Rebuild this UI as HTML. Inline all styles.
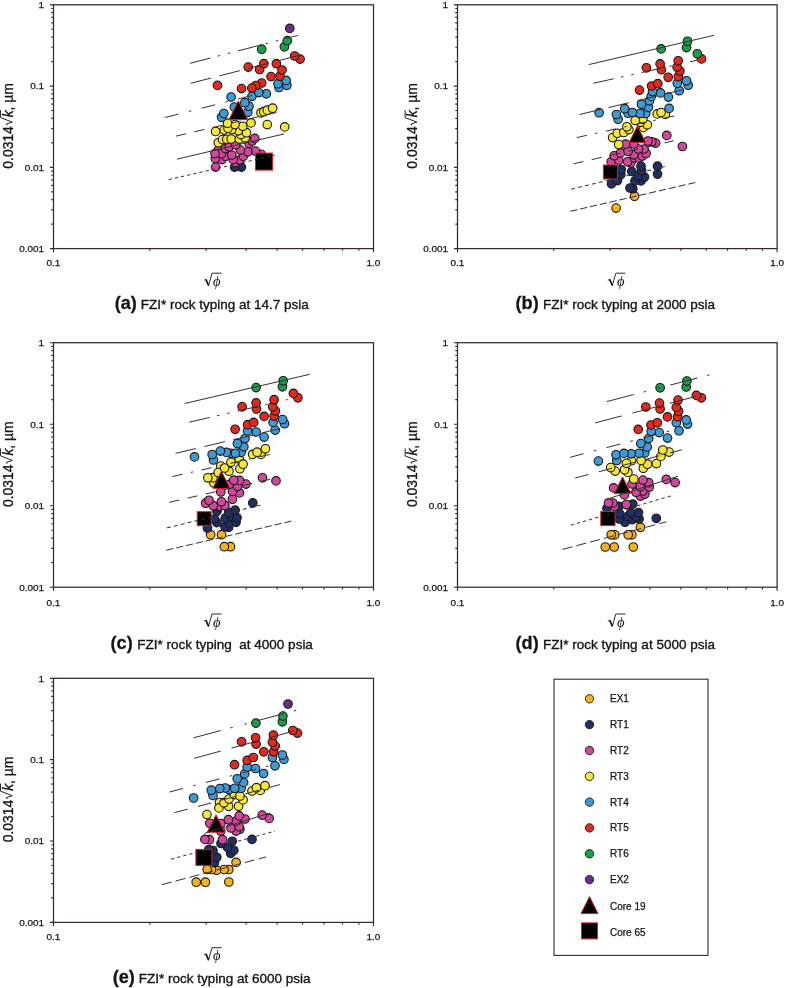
<!DOCTYPE html>
<html lang="en"><head><meta charset="utf-8"><title>FZI* rock typing</title>
<style>
html,body{margin:0;padding:0;background:#fff;}
body{width:785px;height:988px;overflow:hidden;}
svg{display:block;font-family:"Liberation Sans",sans-serif;}
</style></head><body>
<svg width="785" height="988" viewBox="0 0 785 988">
<rect width="785" height="988" fill="#fff"/>
<g>
<g stroke="#1c1616" stroke-width="1.1">
<g fill="#1f2e63"><circle cx="241.4" cy="167.1" r="4.3"/><circle cx="234.6" cy="167.1" r="4.3"/></g>
<g fill="#d0479c"><circle cx="218.5" cy="149.9" r="4.3"/><circle cx="215.6" cy="167.1" r="4.3"/><circle cx="235.7" cy="162.6" r="4.3"/><circle cx="239.5" cy="160" r="4.3"/><circle cx="233.1" cy="159.4" r="4.3"/><circle cx="222" cy="159.6" r="4.3"/><circle cx="215.3" cy="158.5" r="4.3"/><circle cx="243.3" cy="156.2" r="4.3"/><circle cx="225.5" cy="156.2" r="4.3"/><circle cx="231.8" cy="155" r="4.3"/><circle cx="221.6" cy="153.5" r="4.3"/><circle cx="215" cy="153.6" r="4.3"/><circle cx="261.1" cy="154.3" r="4.3"/><circle cx="255.4" cy="151.1" r="4.3"/><circle cx="247.8" cy="151.8" r="4.3"/><circle cx="240.5" cy="150.1" r="4.3"/><circle cx="225.5" cy="148.6" r="4.3"/><circle cx="229.3" cy="146.7" r="4.3"/><circle cx="235.7" cy="144.8" r="4.3"/><circle cx="249" cy="143.5" r="4.3"/><circle cx="252.2" cy="141" r="4.3"/><circle cx="254.8" cy="138.4" r="4.3"/></g>
<g fill="#f3e83a"><circle cx="218.3" cy="142.8" r="4.3"/><circle cx="222.5" cy="139.6" r="4.3"/><circle cx="226.8" cy="139.3" r="4.3"/><circle cx="231.2" cy="139" r="4.3"/><circle cx="239.5" cy="139" r="4.3"/><circle cx="245.2" cy="137.8" r="4.3"/><circle cx="240.8" cy="134.6" r="4.3"/><circle cx="246.5" cy="132.7" r="4.3"/><circle cx="238.2" cy="130.8" r="4.3"/><circle cx="231.8" cy="129.5" r="4.3"/><circle cx="215.6" cy="131.5" r="4.3"/><circle cx="224.2" cy="130.1" r="4.3"/><circle cx="228" cy="128.2" r="4.3"/><circle cx="242.7" cy="126.3" r="4.3"/><circle cx="235" cy="124.6" r="4.3"/><circle cx="227.5" cy="123.2" r="4.3"/><circle cx="251" cy="122.9" r="4.3"/><circle cx="284.7" cy="126.9" r="4.3"/><circle cx="267.3" cy="124.6" r="4.3"/><circle cx="261" cy="112.8" r="4.3"/><circle cx="263.8" cy="111.7" r="4.3"/><circle cx="267.3" cy="110.2" r="4.3"/><circle cx="272.6" cy="108.2" r="4.3"/></g>
<g fill="#3c9ad6"><circle cx="221.6" cy="117.3" r="4.3"/><circle cx="223.8" cy="113.5" r="4.3"/><circle cx="247.8" cy="112.3" r="4.3"/><circle cx="234.4" cy="107" r="4.3"/><circle cx="249" cy="106.2" r="4.3"/><circle cx="244.8" cy="102.7" r="4.3"/><circle cx="231.1" cy="97" r="4.3"/><circle cx="252" cy="96.3" r="4.3"/><circle cx="266.3" cy="93.8" r="4.3"/><circle cx="258.9" cy="92.6" r="4.3"/><circle cx="279" cy="87.5" r="4.3"/><circle cx="286.9" cy="85.3" r="4.3"/><circle cx="278" cy="83.7" r="4.3"/><circle cx="286.1" cy="80.4" r="4.3"/></g>
<g fill="#e02a1f"><circle cx="261.7" cy="83" r="4.3"/><circle cx="255.8" cy="85.5" r="4.3"/><circle cx="251.8" cy="88.1" r="4.3"/><circle cx="241.5" cy="88.6" r="4.3"/><circle cx="217.5" cy="85.4" r="4.3"/><circle cx="279.9" cy="76.3" r="4.3"/><circle cx="271" cy="76.6" r="4.3"/><circle cx="282" cy="70" r="4.3"/><circle cx="276.4" cy="63.7" r="4.3"/><circle cx="259.6" cy="69.5" r="4.3"/><circle cx="248.2" cy="67.1" r="4.3"/><circle cx="263.8" cy="63.7" r="4.3"/><circle cx="300.1" cy="59.1" r="4.3"/><circle cx="294.7" cy="56" r="4.3"/></g>
<g fill="#17a04a"><circle cx="261.7" cy="49.2" r="4.3"/><circle cx="284.4" cy="46.8" r="4.3"/><circle cx="287.3" cy="40.7" r="4.3"/></g>
<g fill="#6b2c91"><circle cx="289.8" cy="28.4" r="4.3"/></g>
</g>
<polygon points="238.4,100.9 247.7,119.5 229.1,119.5" fill="#000" stroke="#e0201c" stroke-width="1"/>
<rect x="255.5" y="153.1" width="17" height="17" fill="#000" stroke="#e0201c" stroke-width="1"/>
<g stroke="#3a2f2e" stroke-width="1" fill="none">
<line x1="190.1" y1="63.3" x2="297.8" y2="35.4" stroke-dasharray="21 7.5 2.5 8 2.5 8"/>
<line x1="190.6" y1="83.3" x2="301" y2="54.9" stroke-dasharray="21 8.8"/>
<line x1="165.1" y1="117.5" x2="270" y2="90.9" stroke-dasharray="14 10.6 2.5 10.6"/>
<line x1="176.1" y1="136.1" x2="276.5" y2="112.5" stroke-dasharray="10.3 8.4"/>
<line x1="176.9" y1="159.2" x2="284.1" y2="133.9"/>
<line x1="168.7" y1="179.6" x2="274.5" y2="155.3" stroke-dasharray="3.3 3"/>
</g>
<rect x="53.5" y="4.8" width="320" height="243.8" fill="none" stroke="#362b2a" stroke-width="1.25"/>
<path d="M53.5 248.60h-3.6M53.5 224.14h-2.2M53.5 209.83h-2.2M53.5 199.67h-2.2M53.5 191.80h-2.2M53.5 185.36h-2.2M53.5 179.92h-2.2M53.5 175.21h-2.2M53.5 171.05h-2.2M53.5 167.33h-3.6M53.5 142.87h-2.2M53.5 128.56h-2.2M53.5 118.41h-2.2M53.5 110.53h-2.2M53.5 104.10h-2.2M53.5 98.66h-2.2M53.5 93.94h-2.2M53.5 89.79h-2.2M53.5 86.07h-3.6M53.5 61.60h-2.2M53.5 47.29h-2.2M53.5 37.14h-2.2M53.5 29.26h-2.2M53.5 22.83h-2.2M53.5 17.39h-2.2M53.5 12.68h-2.2M53.5 8.52h-2.2M53.5 4.8h-3.6M53.50 248.6v3.6M149.83 248.6v2.2M206.18 248.6v2.2M246.16 248.6v2.2M277.17 248.6v2.2M302.51 248.6v2.2M323.93 248.6v2.2M342.49 248.6v2.2M358.86 248.6v2.2M373.50 248.6v3.6" stroke="#362b2a" stroke-width="1.15" fill="none"/>
<g font-size="9.95" fill="#161414" stroke="#161414" stroke-width="0.25">
<text x="44" y="8.1" text-anchor="end">1</text>
<text x="44" y="89.4" text-anchor="end">0.1</text>
<text x="44" y="170.6" text-anchor="end">0.01</text>
<text x="44" y="251.9" text-anchor="end">0.001</text>
<text x="53.5" y="265.5" text-anchor="middle">0.1</text>
<text x="373.5" y="265.5" text-anchor="middle">1.0</text>
</g>
<g transform="translate(12.6 126.1) rotate(-90) scale(1.04)" font-size="13.4" fill="#161414" stroke="#161414" stroke-width="0.3"><text x="-41" y="0">0.0314</text><path d="M0.6 -5.2l1.4 -0.8l1.8 5.7l4.4 -11.3h7.2" fill="none" stroke="#161414" stroke-width="0.9"/><text x="8.5" y="0" font-style="italic">k</text><text x="15" y="0">, µm</text></g>
<g transform="translate(213.5 248.6)" fill="#161414"><path d="M-9.5 31.7l2 -0.9" fill="none" stroke="#161414" stroke-width="0.8"/><path d="M-7.6 30.7l2.6 6" fill="none" stroke="#161414" stroke-width="1.7"/><path d="M-5.1 37.4l3.6 -12.8h9.6" fill="none" stroke="#161414" stroke-width="0.9"/><text x="-0.4" y="37.2" font-size="14.5" font-style="italic" font-family="'Liberation Serif','DejaVu Serif',serif">ϕ</text></g>
<text x="114.7" y="308.6" font-size="18.1" font-weight="bold" fill="#161414" stroke="#161414" stroke-width="0.3">(a)</text>
<text x="140.79999999999998" y="308.6" font-size="13.5" fill="#161414" stroke="#161414" stroke-width="0.35" xml:space="preserve">FZI* rock typing at 14.7 psia</text>
</g>
<g>
<g stroke="#1c1616" stroke-width="1.1">
<g fill="#f5b21b"><circle cx="634.5" cy="196.2" r="4.3"/><circle cx="616.1" cy="208.1" r="4.3"/></g>
<g fill="#1f2e63"><circle cx="641" cy="180.9" r="4.3"/><circle cx="632.8" cy="188.7" r="4.3"/><circle cx="630" cy="188" r="4.3"/><circle cx="635" cy="180.9" r="4.3"/><circle cx="611.5" cy="183.8" r="4.3"/><circle cx="617.5" cy="180.6" r="4.3"/><circle cx="620.8" cy="174.5" r="4.3"/><circle cx="644.5" cy="177.1" r="4.3"/><circle cx="637.9" cy="176.2" r="4.3"/><circle cx="631.8" cy="171.5" r="4.3"/><circle cx="621.3" cy="169.5" r="4.3"/><circle cx="657.5" cy="174.1" r="4.3"/><circle cx="657.5" cy="166.2" r="4.3"/><circle cx="641.6" cy="170.7" r="4.3"/><circle cx="641" cy="166.2" r="4.3"/></g>
<g fill="#d0479c"><circle cx="630.8" cy="163.1" r="4.3"/><circle cx="627.7" cy="161.8" r="4.3"/><circle cx="611.2" cy="161.8" r="4.3"/><circle cx="618.8" cy="160.2" r="4.3"/><circle cx="634.5" cy="158" r="4.3"/><circle cx="639" cy="158" r="4.3"/><circle cx="642.2" cy="156.1" r="4.3"/><circle cx="646.1" cy="153.5" r="4.3"/><circle cx="633.9" cy="154.8" r="4.3"/><circle cx="614.2" cy="155.8" r="4.3"/><circle cx="620.6" cy="152.9" r="4.3"/><circle cx="628.1" cy="151.3" r="4.3"/><circle cx="644.1" cy="149" r="4.3"/><circle cx="638.4" cy="149" r="4.3"/><circle cx="633.8" cy="143.9" r="4.3"/><circle cx="625.6" cy="144.2" r="4.3"/><circle cx="655.6" cy="143.1" r="4.3"/><circle cx="651.8" cy="141.8" r="4.3"/><circle cx="648" cy="141" r="4.3"/><circle cx="682.4" cy="146.5" r="4.3"/><circle cx="666.8" cy="135.4" r="4.3"/></g>
<g fill="#f3e83a"><circle cx="618.7" cy="144.6" r="4.3"/><circle cx="612.6" cy="137.6" r="4.3"/><circle cx="617.3" cy="133.3" r="4.3"/><circle cx="623.8" cy="132.5" r="4.3"/><circle cx="628.9" cy="129.6" r="4.3"/><circle cx="626.9" cy="126.8" r="4.3"/><circle cx="643.5" cy="127.4" r="4.3"/><circle cx="647.3" cy="124.8" r="4.3"/><circle cx="640.3" cy="122.3" r="4.3"/><circle cx="642.9" cy="119.1" r="4.3"/><circle cx="635.2" cy="120.5" r="4.3"/><circle cx="665.3" cy="114.4" r="4.3"/><circle cx="657.2" cy="113.9" r="4.3"/><circle cx="661.1" cy="112.6" r="4.3"/></g>
<g fill="#3c9ad6"><circle cx="618.1" cy="119.2" r="4.3"/><circle cx="616.4" cy="114.5" r="4.3"/><circle cx="599.1" cy="112.7" r="4.3"/><circle cx="628" cy="113.2" r="4.3"/><circle cx="645.7" cy="113.5" r="4.3"/><circle cx="640" cy="113.5" r="4.3"/><circle cx="632.5" cy="112.5" r="4.3"/><circle cx="624.7" cy="108.7" r="4.3"/><circle cx="669.1" cy="108.4" r="4.3"/><circle cx="648.4" cy="107.3" r="4.3"/><circle cx="641.5" cy="104.3" r="4.3"/><circle cx="649.5" cy="100.8" r="4.3"/><circle cx="651.2" cy="96.4" r="4.3"/><circle cx="668.4" cy="97.1" r="4.3"/><circle cx="660.5" cy="92.9" r="4.3"/><circle cx="652.5" cy="91.6" r="4.3"/><circle cx="679.2" cy="90.7" r="4.3"/><circle cx="688.2" cy="85.2" r="4.3"/><circle cx="677.3" cy="83.3" r="4.3"/><circle cx="686.5" cy="80.8" r="4.3"/></g>
<g fill="#e02a1f"><circle cx="639.5" cy="90.1" r="4.3"/><circle cx="651.6" cy="86" r="4.3"/><circle cx="657.8" cy="83.7" r="4.3"/><circle cx="678.3" cy="76.7" r="4.3"/><circle cx="668.2" cy="77.3" r="4.3"/><circle cx="679.9" cy="71" r="4.3"/><circle cx="677.1" cy="67.1" r="4.3"/><circle cx="661.4" cy="69.7" r="4.3"/><circle cx="646.4" cy="67.8" r="4.3"/><circle cx="660.1" cy="63.9" r="4.3"/><circle cx="678.2" cy="60.8" r="4.3"/><circle cx="701.5" cy="58.9" r="4.3"/></g>
<g fill="#17a04a"><circle cx="697.3" cy="53.8" r="4.3"/><circle cx="686.5" cy="47.6" r="4.3"/><circle cx="687.5" cy="41.3" r="4.3"/><circle cx="661.1" cy="48.9" r="4.3"/></g>
</g>
<polygon points="637.4,126 645.6,142.4 629.2,142.4" fill="#000" stroke="#e0201c" stroke-width="1"/>
<rect x="603.4" y="165" width="14" height="14" fill="#000" stroke="#e0201c" stroke-width="1"/>
<g stroke="#3a2f2e" stroke-width="1" fill="none">
<line x1="588.8" y1="64.6" x2="714" y2="35.3"/>
<line x1="593.2" y1="83.3" x2="697.7" y2="60.1" stroke-dasharray="21 7.5 2.5 8 2.5 8"/>
<line x1="579.5" y1="114.5" x2="684" y2="89.5" stroke-dasharray="21 8.8"/>
<line x1="576.7" y1="137.6" x2="682" y2="114.2" stroke-dasharray="10.5 8.4 2.5 8.4"/>
<line x1="573.4" y1="163.8" x2="673.8" y2="140.8" stroke-dasharray="10.3 8.4"/>
<line x1="571.2" y1="189.2" x2="667" y2="166" stroke-dasharray="4 3.1"/>
<line x1="570.2" y1="211.3" x2="695.4" y2="182.5" stroke-dasharray="7.3 2.8"/>
</g>
<rect x="457.5" y="4.8" width="319.6" height="243.8" fill="none" stroke="#362b2a" stroke-width="1.25"/>
<path d="M457.5 248.60h-3.6M457.5 224.14h-2.2M457.5 209.83h-2.2M457.5 199.67h-2.2M457.5 191.80h-2.2M457.5 185.36h-2.2M457.5 179.92h-2.2M457.5 175.21h-2.2M457.5 171.05h-2.2M457.5 167.33h-3.6M457.5 142.87h-2.2M457.5 128.56h-2.2M457.5 118.41h-2.2M457.5 110.53h-2.2M457.5 104.10h-2.2M457.5 98.66h-2.2M457.5 93.94h-2.2M457.5 89.79h-2.2M457.5 86.07h-3.6M457.5 61.60h-2.2M457.5 47.29h-2.2M457.5 37.14h-2.2M457.5 29.26h-2.2M457.5 22.83h-2.2M457.5 17.39h-2.2M457.5 12.68h-2.2M457.5 8.52h-2.2M457.5 4.8h-3.6M457.50 248.6v3.6M553.71 248.6v2.2M609.99 248.6v2.2M649.92 248.6v2.2M680.89 248.6v2.2M706.20 248.6v2.2M727.59 248.6v2.2M746.13 248.6v2.2M762.48 248.6v2.2M777.10 248.6v3.6" stroke="#362b2a" stroke-width="1.15" fill="none"/>
<g font-size="9.95" fill="#161414" stroke="#161414" stroke-width="0.25">
<text x="448" y="8.1" text-anchor="end">1</text>
<text x="448" y="89.4" text-anchor="end">0.1</text>
<text x="448" y="170.6" text-anchor="end">0.01</text>
<text x="448" y="251.9" text-anchor="end">0.001</text>
<text x="457.5" y="265.5" text-anchor="middle">0.1</text>
<text x="777.1" y="265.5" text-anchor="middle">1.0</text>
</g>
<g transform="translate(417.2 126.1) rotate(-90) scale(1.04)" font-size="13.4" fill="#161414" stroke="#161414" stroke-width="0.3"><text x="-41" y="0">0.0314</text><path d="M0.6 -5.2l1.4 -0.8l1.8 5.7l4.4 -11.3h7.2" fill="none" stroke="#161414" stroke-width="0.9"/><text x="8.5" y="0" font-style="italic">k</text><text x="15" y="0">, µm</text></g>
<g transform="translate(617.3 248.6)" fill="#161414"><path d="M-9.5 31.7l2 -0.9" fill="none" stroke="#161414" stroke-width="0.8"/><path d="M-7.6 30.7l2.6 6" fill="none" stroke="#161414" stroke-width="1.7"/><path d="M-5.1 37.4l3.6 -12.8h9.6" fill="none" stroke="#161414" stroke-width="0.9"/><text x="-0.4" y="37.2" font-size="14.5" font-style="italic" font-family="'Liberation Serif','DejaVu Serif',serif">ϕ</text></g>
<text x="515.6" y="308.6" font-size="18.1" font-weight="bold" fill="#161414" stroke="#161414" stroke-width="0.3">(b)</text>
<text x="543.1" y="308.6" font-size="13.5" fill="#161414" stroke="#161414" stroke-width="0.35" xml:space="preserve">FZI* rock typing at 2000 psia</text>
</g>
<g>
<g stroke="#1c1616" stroke-width="1.1">
<g fill="#f5b21b"><circle cx="230.5" cy="546.7" r="4.3"/><circle cx="224.3" cy="546.7" r="4.3"/><circle cx="221.5" cy="534.7" r="4.3"/><circle cx="210.6" cy="534.7" r="4.3"/></g>
<g fill="#1f2e63"><circle cx="207.4" cy="528" r="4.3"/><circle cx="228.6" cy="527.4" r="4.3"/><circle cx="224.9" cy="526.7" r="4.3"/><circle cx="216.9" cy="522.6" r="4.3"/><circle cx="229" cy="522.9" r="4.3"/><circle cx="236" cy="522.3" r="4.3"/><circle cx="214.4" cy="519" r="4.3"/><circle cx="225.2" cy="518.2" r="4.3"/><circle cx="231.3" cy="516.2" r="4.3"/><circle cx="237" cy="517.8" r="4.3"/><circle cx="216.9" cy="511.3" r="4.3"/><circle cx="228.7" cy="512.4" r="4.3"/><circle cx="235.1" cy="510.2" r="4.3"/><circle cx="252.8" cy="502.9" r="4.3"/></g>
<g fill="#d0479c"><circle cx="219.8" cy="506.3" r="4.3"/><circle cx="224.9" cy="505.4" r="4.3"/><circle cx="213.2" cy="505.7" r="4.3"/><circle cx="205.6" cy="503.2" r="4.3"/><circle cx="209" cy="500.3" r="4.3"/><circle cx="221.4" cy="501.8" r="4.3"/><circle cx="232.4" cy="499.2" r="4.3"/><circle cx="239.5" cy="492.9" r="4.3"/><circle cx="232.5" cy="491.4" r="4.3"/><circle cx="220.8" cy="492" r="4.3"/><circle cx="237.6" cy="486.3" r="4.3"/><circle cx="229.3" cy="484.4" r="4.3"/><circle cx="245.9" cy="484.1" r="4.3"/><circle cx="239.5" cy="480.4" r="4.3"/><circle cx="233.8" cy="480.2" r="4.3"/><circle cx="276" cy="480.9" r="4.3"/><circle cx="262.5" cy="477.8" r="4.3"/></g>
<g fill="#f3e83a"><circle cx="213.9" cy="483.1" r="4.3"/><circle cx="213" cy="477.7" r="4.3"/><circle cx="207.8" cy="477.8" r="4.3"/><circle cx="220.8" cy="466.1" r="4.3"/><circle cx="218.2" cy="472.5" r="4.3"/><circle cx="229" cy="471.2" r="4.3"/><circle cx="224.6" cy="468" r="4.3"/><circle cx="239.9" cy="468.7" r="4.3"/><circle cx="239.2" cy="459.1" r="4.3"/><circle cx="243.1" cy="464.2" r="4.3"/><circle cx="231" cy="462.3" r="4.3"/><circle cx="261" cy="454.4" r="4.3"/><circle cx="252.6" cy="454.4" r="4.3"/><circle cx="257.1" cy="452.2" r="4.3"/><circle cx="265.4" cy="448.8" r="4.3"/></g>
<g fill="#3c9ad6"><circle cx="213.5" cy="460" r="4.3"/><circle cx="212.2" cy="454.5" r="4.3"/><circle cx="194.5" cy="456.9" r="4.3"/><circle cx="230.8" cy="453.3" r="4.3"/><circle cx="241.1" cy="452.3" r="4.3"/><circle cx="235.4" cy="453.3" r="4.3"/><circle cx="226.5" cy="452.4" r="4.3"/><circle cx="220.3" cy="451.1" r="4.3"/><circle cx="243.8" cy="446.8" r="4.3"/><circle cx="237.4" cy="443.6" r="4.3"/><circle cx="245" cy="438.5" r="4.3"/><circle cx="264.1" cy="437.1" r="4.3"/><circle cx="256.1" cy="432" r="4.3"/><circle cx="247.6" cy="430.9" r="4.3"/><circle cx="275.2" cy="430.1" r="4.3"/><circle cx="284.5" cy="423.7" r="4.3"/><circle cx="273.1" cy="422.4" r="4.3"/><circle cx="282.6" cy="419.5" r="4.3"/></g>
<g fill="#e02a1f"><circle cx="235.1" cy="429.3" r="4.3"/><circle cx="247.6" cy="424.7" r="4.3"/><circle cx="253.7" cy="422.4" r="4.3"/><circle cx="274.1" cy="416.1" r="4.3"/><circle cx="264.1" cy="416.4" r="4.3"/><circle cx="275.4" cy="411" r="4.3"/><circle cx="272.7" cy="406.8" r="4.3"/><circle cx="256.5" cy="409" r="4.3"/><circle cx="242.1" cy="406.8" r="4.3"/><circle cx="256.1" cy="402.9" r="4.3"/><circle cx="274.1" cy="399.7" r="4.3"/><circle cx="297.9" cy="397.8" r="4.3"/><circle cx="293.4" cy="393.4" r="4.3"/></g>
<g fill="#17a04a"><circle cx="282.4" cy="386.8" r="4.3"/><circle cx="283.2" cy="380.8" r="4.3"/><circle cx="256.1" cy="387.6" r="4.3"/></g>
</g>
<polygon points="221.4,471.3 229.9,488.3 212.9,488.3" fill="#000" stroke="#e0201c" stroke-width="1"/>
<rect x="197.2" y="511.7" width="14" height="14" fill="#000" stroke="#e0201c" stroke-width="1"/>
<g stroke="#3a2f2e" stroke-width="1" fill="none">
<line x1="184.6" y1="403.5" x2="309.8" y2="374.3"/>
<line x1="189.2" y1="422.2" x2="287.7" y2="399.5" stroke-dasharray="21 7.5 2.5 8 2.5 8"/>
<line x1="175.5" y1="453.4" x2="280" y2="428.6" stroke-dasharray="21 8.8"/>
<line x1="172.3" y1="476.6" x2="278" y2="452.6" stroke-dasharray="10.5 8.4 2.5 8.4"/>
<line x1="169.2" y1="502.3" x2="270" y2="479.3" stroke-dasharray="10.3 8.4"/>
<line x1="166.9" y1="527.9" x2="263" y2="504.5" stroke-dasharray="4 3.1"/>
<line x1="166.3" y1="550.2" x2="291.4" y2="521.1" stroke-dasharray="7.3 2.8"/>
</g>
<rect x="53.5" y="342.7" width="320" height="244.5" fill="none" stroke="#362b2a" stroke-width="1.25"/>
<path d="M53.5 587.20h-3.6M53.5 562.67h-2.2M53.5 548.31h-2.2M53.5 538.13h-2.2M53.5 530.23h-2.2M53.5 523.78h-2.2M53.5 518.32h-2.2M53.5 513.60h-2.2M53.5 509.43h-2.2M53.5 505.70h-3.6M53.5 481.17h-2.2M53.5 466.81h-2.2M53.5 456.63h-2.2M53.5 448.73h-2.2M53.5 442.28h-2.2M53.5 436.82h-2.2M53.5 432.10h-2.2M53.5 427.93h-2.2M53.5 424.20h-3.6M53.5 399.67h-2.2M53.5 385.31h-2.2M53.5 375.13h-2.2M53.5 367.23h-2.2M53.5 360.78h-2.2M53.5 355.32h-2.2M53.5 350.60h-2.2M53.5 346.43h-2.2M53.5 342.7h-3.6M53.50 587.2v3.6M149.83 587.2v2.2M206.18 587.2v2.2M246.16 587.2v2.2M277.17 587.2v2.2M302.51 587.2v2.2M323.93 587.2v2.2M342.49 587.2v2.2M358.86 587.2v2.2M373.50 587.2v3.6" stroke="#362b2a" stroke-width="1.15" fill="none"/>
<g font-size="9.95" fill="#161414" stroke="#161414" stroke-width="0.25">
<text x="44" y="346.0" text-anchor="end">1</text>
<text x="44" y="427.5" text-anchor="end">0.1</text>
<text x="44" y="509.0" text-anchor="end">0.01</text>
<text x="44" y="590.5" text-anchor="end">0.001</text>
<text x="53.5" y="605.5" text-anchor="middle">0.1</text>
<text x="373.5" y="605.5" text-anchor="middle">1.0</text>
</g>
<g transform="translate(12.6 464.4) rotate(-90) scale(1.04)" font-size="13.4" fill="#161414" stroke="#161414" stroke-width="0.3"><text x="-41" y="0">0.0314</text><path d="M0.6 -5.2l1.4 -0.8l1.8 5.7l4.4 -11.3h7.2" fill="none" stroke="#161414" stroke-width="0.9"/><text x="8.5" y="0" font-style="italic">k</text><text x="15" y="0">, µm</text></g>
<g transform="translate(213.5 589.4)" fill="#161414"><path d="M-9.5 31.7l2 -0.9" fill="none" stroke="#161414" stroke-width="0.8"/><path d="M-7.6 30.7l2.6 6" fill="none" stroke="#161414" stroke-width="1.7"/><path d="M-5.1 37.4l3.6 -12.8h9.6" fill="none" stroke="#161414" stroke-width="0.9"/><text x="-0.4" y="37.2" font-size="14.5" font-style="italic" font-family="'Liberation Serif','DejaVu Serif',serif">ϕ</text></g>
<text x="110.6" y="648.9" font-size="18.1" font-weight="bold" fill="#161414" stroke="#161414" stroke-width="0.3">(c)</text>
<text x="137.29999999999998" y="648.9" font-size="13.5" fill="#161414" stroke="#161414" stroke-width="0.35" xml:space="preserve">FZI* rock typing  at 4000 psia</text>
</g>
<g>
<g stroke="#1c1616" stroke-width="1.1">
<g fill="#f5b21b"><circle cx="633.3" cy="547" r="4.3"/><circle cx="614.2" cy="547" r="4.3"/><circle cx="605.3" cy="547" r="4.3"/><circle cx="631.8" cy="534.8" r="4.3"/><circle cx="628.2" cy="534.8" r="4.3"/><circle cx="614.7" cy="534.8" r="4.3"/><circle cx="611.2" cy="534.8" r="4.3"/><circle cx="640.4" cy="527.3" r="4.3"/></g>
<g fill="#1f2e63"><circle cx="639.1" cy="519" r="4.3"/><circle cx="632.1" cy="519.7" r="4.3"/><circle cx="625" cy="522.2" r="4.3"/><circle cx="619.1" cy="519" r="4.3"/><circle cx="636.3" cy="517.1" r="4.3"/><circle cx="627.7" cy="516.4" r="4.3"/><circle cx="619.6" cy="513.8" r="4.3"/><circle cx="638.5" cy="512.6" r="4.3"/><circle cx="630.9" cy="512.6" r="4.3"/><circle cx="607" cy="508.3" r="4.3"/><circle cx="619" cy="506.4" r="4.3"/><circle cx="632.8" cy="504" r="4.3"/><circle cx="656.3" cy="518.3" r="4.3"/></g>
<g fill="#d0479c"><circle cx="626.3" cy="504.5" r="4.3"/><circle cx="614.4" cy="506.4" r="4.3"/><circle cx="612.9" cy="503" r="4.3"/><circle cx="608.5" cy="503" r="4.3"/><circle cx="624.4" cy="494.9" r="4.3"/><circle cx="640.4" cy="496.1" r="4.3"/><circle cx="644.9" cy="494.1" r="4.3"/><circle cx="643" cy="491" r="4.3"/><circle cx="636" cy="492.2" r="4.3"/><circle cx="613.6" cy="487.9" r="4.3"/><circle cx="640.4" cy="486.5" r="4.3"/><circle cx="649.3" cy="487.1" r="4.3"/><circle cx="632.1" cy="484" r="4.3"/><circle cx="648.7" cy="482.7" r="4.3"/><circle cx="643" cy="480.1" r="4.3"/><circle cx="675.1" cy="482.6" r="4.3"/><circle cx="666.3" cy="479.4" r="4.3"/></g>
<g fill="#f3e83a"><circle cx="631.5" cy="460.7" r="4.3"/><circle cx="633.8" cy="479.1" r="4.3"/><circle cx="627.9" cy="472.4" r="4.3"/><circle cx="624.5" cy="469.8" r="4.3"/><circle cx="615.2" cy="471.1" r="4.3"/><circle cx="610.7" cy="467.6" r="4.3"/><circle cx="626.4" cy="463.3" r="4.3"/><circle cx="643.3" cy="468.2" r="4.3"/><circle cx="647.5" cy="464.2" r="4.3"/><circle cx="641.1" cy="460.4" r="4.3"/><circle cx="656.4" cy="463.6" r="4.3"/><circle cx="660.9" cy="456.4" r="4.3"/><circle cx="669.1" cy="452.1" r="4.3"/><circle cx="662.8" cy="450" r="4.3"/></g>
<g fill="#3c9ad6"><circle cx="616.8" cy="460.5" r="4.3"/><circle cx="616" cy="454.8" r="4.3"/><circle cx="598.4" cy="461.1" r="4.3"/><circle cx="644.7" cy="453" r="4.3"/><circle cx="639.1" cy="453.3" r="4.3"/><circle cx="631.1" cy="453.8" r="4.3"/><circle cx="623.9" cy="453.4" r="4.3"/><circle cx="647.2" cy="447" r="4.3"/><circle cx="640.8" cy="443.6" r="4.3"/><circle cx="648.7" cy="438.5" r="4.3"/><circle cx="667.5" cy="438.1" r="4.3"/><circle cx="659.2" cy="432.6" r="4.3"/><circle cx="651.2" cy="431.3" r="4.3"/><circle cx="679" cy="430.7" r="4.3"/><circle cx="687.5" cy="424.1" r="4.3"/><circle cx="676.3" cy="422.7" r="4.3"/><circle cx="686.2" cy="419.9" r="4.3"/></g>
<g fill="#e02a1f"><circle cx="638.2" cy="429.4" r="4.3"/><circle cx="651" cy="425" r="4.3"/><circle cx="657.3" cy="422.8" r="4.3"/><circle cx="677.6" cy="416.7" r="4.3"/><circle cx="667.5" cy="416.9" r="4.3"/><circle cx="678.6" cy="411.3" r="4.3"/><circle cx="676.3" cy="407.4" r="4.3"/><circle cx="660.1" cy="409" r="4.3"/><circle cx="645.8" cy="407" r="4.3"/><circle cx="659.5" cy="403.1" r="4.3"/><circle cx="678" cy="400.1" r="4.3"/><circle cx="701.3" cy="397.8" r="4.3"/><circle cx="696.4" cy="395.4" r="4.3"/></g>
<g fill="#17a04a"><circle cx="686.2" cy="387" r="4.3"/><circle cx="686.9" cy="381" r="4.3"/><circle cx="660.1" cy="387.8" r="4.3"/></g>
</g>
<polygon points="622.6,476.9 630.9,493.5 614.3,493.5" fill="#000" stroke="#e0201c" stroke-width="1"/>
<rect x="600.8" y="511.4" width="14.2" height="14.2" fill="#000" stroke="#e0201c" stroke-width="1"/>
<g stroke="#3a2f2e" stroke-width="1" fill="none">
<line x1="606.7" y1="401.6" x2="710" y2="374.7" stroke-dasharray="28 10 2.5 12 2.5 10.7"/>
<line x1="595.2" y1="422.9" x2="696.4" y2="396.3" stroke-dasharray="27.5 11"/>
<line x1="570.1" y1="457.3" x2="670.5" y2="430.7" stroke-dasharray="14 10.6 2.5 10.6"/>
<line x1="575.2" y1="478" x2="681.8" y2="449.8" stroke-dasharray="13.8 10.7"/>
<line x1="605" y1="499.8" x2="678" y2="476.2"/>
<line x1="570.8" y1="525.2" x2="673.4" y2="495.2" stroke-dasharray="3.3 3"/>
<line x1="562.5" y1="549.4" x2="666.4" y2="521.8" stroke-dasharray="10.2 4.1"/>
</g>
<rect x="457.5" y="342.7" width="319.6" height="244.5" fill="none" stroke="#362b2a" stroke-width="1.25"/>
<path d="M457.5 587.20h-3.6M457.5 562.67h-2.2M457.5 548.31h-2.2M457.5 538.13h-2.2M457.5 530.23h-2.2M457.5 523.78h-2.2M457.5 518.32h-2.2M457.5 513.60h-2.2M457.5 509.43h-2.2M457.5 505.70h-3.6M457.5 481.17h-2.2M457.5 466.81h-2.2M457.5 456.63h-2.2M457.5 448.73h-2.2M457.5 442.28h-2.2M457.5 436.82h-2.2M457.5 432.10h-2.2M457.5 427.93h-2.2M457.5 424.20h-3.6M457.5 399.67h-2.2M457.5 385.31h-2.2M457.5 375.13h-2.2M457.5 367.23h-2.2M457.5 360.78h-2.2M457.5 355.32h-2.2M457.5 350.60h-2.2M457.5 346.43h-2.2M457.5 342.7h-3.6M457.50 587.2v3.6M553.71 587.2v2.2M609.99 587.2v2.2M649.92 587.2v2.2M680.89 587.2v2.2M706.20 587.2v2.2M727.59 587.2v2.2M746.13 587.2v2.2M762.48 587.2v2.2M777.10 587.2v3.6" stroke="#362b2a" stroke-width="1.15" fill="none"/>
<g font-size="9.95" fill="#161414" stroke="#161414" stroke-width="0.25">
<text x="448" y="346.0" text-anchor="end">1</text>
<text x="448" y="427.5" text-anchor="end">0.1</text>
<text x="448" y="509.0" text-anchor="end">0.01</text>
<text x="448" y="590.5" text-anchor="end">0.001</text>
<text x="457.5" y="605.5" text-anchor="middle">0.1</text>
<text x="777.1" y="605.5" text-anchor="middle">1.0</text>
</g>
<g transform="translate(417.2 464.4) rotate(-90) scale(1.04)" font-size="13.4" fill="#161414" stroke="#161414" stroke-width="0.3"><text x="-41" y="0">0.0314</text><path d="M0.6 -5.2l1.4 -0.8l1.8 5.7l4.4 -11.3h7.2" fill="none" stroke="#161414" stroke-width="0.9"/><text x="8.5" y="0" font-style="italic">k</text><text x="15" y="0">, µm</text></g>
<g transform="translate(617.3 589.4)" fill="#161414"><path d="M-9.5 31.7l2 -0.9" fill="none" stroke="#161414" stroke-width="0.8"/><path d="M-7.6 30.7l2.6 6" fill="none" stroke="#161414" stroke-width="1.7"/><path d="M-5.1 37.4l3.6 -12.8h9.6" fill="none" stroke="#161414" stroke-width="0.9"/><text x="-0.4" y="37.2" font-size="14.5" font-style="italic" font-family="'Liberation Serif','DejaVu Serif',serif">ϕ</text></g>
<text x="515.6" y="648.9" font-size="18.1" font-weight="bold" fill="#161414" stroke="#161414" stroke-width="0.3">(d)</text>
<text x="543.1" y="648.9" font-size="13.5" fill="#161414" stroke="#161414" stroke-width="0.35" xml:space="preserve">FZI* rock typing at 5000 psia</text>
</g>
<g>
<g stroke="#1c1616" stroke-width="1.1">
<g fill="#f5b21b"><circle cx="228.8" cy="882" r="4.3"/><circle cx="205.4" cy="882.2" r="4.3"/><circle cx="196.2" cy="882.2" r="4.3"/><circle cx="228.8" cy="869.5" r="4.3"/><circle cx="224.1" cy="869.5" r="4.3"/><circle cx="216.5" cy="870.2" r="4.3"/><circle cx="211.6" cy="869.5" r="4.3"/><circle cx="207.2" cy="869.5" r="4.3"/><circle cx="236.1" cy="862.4" r="4.3"/></g>
<g fill="#1f2e63"><circle cx="214.5" cy="862.6" r="4.3"/><circle cx="216.8" cy="857.3" r="4.3"/><circle cx="213" cy="850.7" r="4.3"/><circle cx="208.8" cy="849.6" r="4.3"/><circle cx="230.7" cy="853.4" r="4.3"/><circle cx="233.8" cy="850.3" r="4.3"/><circle cx="227.5" cy="847.4" r="4.3"/><circle cx="221" cy="843.5" r="4.3"/><circle cx="232.2" cy="841.3" r="4.3"/><circle cx="252" cy="839.4" r="4.3"/></g>
<g fill="#d0479c"><circle cx="222.5" cy="839.7" r="4.3"/><circle cx="209.4" cy="839.7" r="4.3"/><circle cx="204.9" cy="839.4" r="4.3"/><circle cx="220.8" cy="831.1" r="4.3"/><circle cx="239.9" cy="829.2" r="4.3"/><circle cx="236.1" cy="831.1" r="4.3"/><circle cx="231" cy="828" r="4.3"/><circle cx="239.2" cy="826.7" r="4.3"/><circle cx="220.8" cy="823.5" r="4.3"/><circle cx="209.8" cy="823.3" r="4.3"/><circle cx="236.1" cy="821" r="4.3"/><circle cx="228.4" cy="819.7" r="4.3"/><circle cx="245" cy="819" r="4.3"/><circle cx="239.2" cy="815.9" r="4.3"/><circle cx="269.2" cy="818.4" r="4.3"/><circle cx="262.2" cy="815.1" r="4.3"/></g>
<g fill="#f3e83a"><circle cx="219.5" cy="802.5" r="4.3"/><circle cx="206.9" cy="814.6" r="4.3"/><circle cx="238.6" cy="806.3" r="4.3"/><circle cx="228.6" cy="806.3" r="4.3"/><circle cx="218.9" cy="807.9" r="4.3"/><circle cx="224" cy="802.7" r="4.3"/><circle cx="229" cy="799" r="4.3"/><circle cx="243.1" cy="799.9" r="4.3"/><circle cx="234.3" cy="794.6" r="4.3"/><circle cx="239.9" cy="796" r="4.3"/><circle cx="260.3" cy="790.4" r="4.3"/><circle cx="252" cy="791" r="4.3"/><circle cx="256.4" cy="787.7" r="4.3"/><circle cx="265" cy="785.7" r="4.3"/></g>
<g fill="#3c9ad6"><circle cx="229" cy="789.6" r="4.3"/><circle cx="193.6" cy="798" r="4.3"/><circle cx="213" cy="795.5" r="4.3"/><circle cx="211.3" cy="790.2" r="4.3"/><circle cx="241.1" cy="788.2" r="4.3"/><circle cx="225.2" cy="788" r="4.3"/><circle cx="219.8" cy="788.6" r="4.3"/><circle cx="234.7" cy="788.3" r="4.3"/><circle cx="243.6" cy="782.4" r="4.3"/><circle cx="237.2" cy="778.8" r="4.3"/><circle cx="244.7" cy="773.9" r="4.3"/><circle cx="263.6" cy="773.5" r="4.3"/><circle cx="255.5" cy="768.5" r="4.3"/><circle cx="247.2" cy="766.9" r="4.3"/><circle cx="275" cy="765.8" r="4.3"/><circle cx="283.9" cy="759.4" r="4.3"/><circle cx="272.4" cy="757.5" r="4.3"/><circle cx="282.4" cy="755" r="4.3"/></g>
<g fill="#e02a1f"><circle cx="234.5" cy="764.7" r="4.3"/><circle cx="247.2" cy="760.4" r="4.3"/><circle cx="253.3" cy="757.5" r="4.3"/><circle cx="273.7" cy="751.8" r="4.3"/><circle cx="263.8" cy="751.8" r="4.3"/><circle cx="275.2" cy="746.1" r="4.3"/><circle cx="272.4" cy="742.2" r="4.3"/><circle cx="256.1" cy="744.1" r="4.3"/><circle cx="241.6" cy="741.8" r="4.3"/><circle cx="255.6" cy="737.8" r="4.3"/><circle cx="273.4" cy="735.2" r="4.3"/><circle cx="297.5" cy="733.1" r="4.3"/><circle cx="292.8" cy="730.5" r="4.3"/></g>
<g fill="#17a04a"><circle cx="255.9" cy="723.1" r="4.3"/><circle cx="282.4" cy="721.8" r="4.3"/><circle cx="282.9" cy="716.1" r="4.3"/></g>
<g fill="#6b2c91"><circle cx="288" cy="704" r="4.3"/></g>
</g>
<polygon points="216,814.8 224.7,832.2 207.3,832.2" fill="#000" stroke="#e0201c" stroke-width="1"/>
<rect x="195.9" y="849.4" width="16" height="16" fill="#000" stroke="#e0201c" stroke-width="1"/>
<g stroke="#3a2f2e" stroke-width="1" fill="none">
<line x1="193.6" y1="737.8" x2="296.5" y2="710.2" stroke-dasharray="28 10 2.5 12 2.5 10.7"/>
<line x1="194.3" y1="758.3" x2="294" y2="731" stroke-dasharray="27.5 11"/>
<line x1="169.5" y1="792" x2="269" y2="765.9" stroke-dasharray="14 10.6 2.5 10.6"/>
<line x1="174.3" y1="812.7" x2="280" y2="784.6" stroke-dasharray="13.8 10.7"/>
<line x1="204.5" y1="833.4" x2="270" y2="813"/>
<line x1="171" y1="859.2" x2="275" y2="831.2" stroke-dasharray="3.3 3"/>
<line x1="161.8" y1="884.7" x2="266.1" y2="856.9" stroke-dasharray="10.2 4.1"/>
</g>
<rect x="53.5" y="678.3" width="320" height="244.1" fill="none" stroke="#362b2a" stroke-width="1.25"/>
<path d="M53.5 922.40h-3.6M53.5 897.91h-2.2M53.5 883.58h-2.2M53.5 873.41h-2.2M53.5 865.53h-2.2M53.5 859.08h-2.2M53.5 853.64h-2.2M53.5 848.92h-2.2M53.5 844.76h-2.2M53.5 841.03h-3.6M53.5 816.54h-2.2M53.5 802.21h-2.2M53.5 792.05h-2.2M53.5 784.16h-2.2M53.5 777.72h-2.2M53.5 772.27h-2.2M53.5 767.55h-2.2M53.5 763.39h-2.2M53.5 759.67h-3.6M53.5 735.17h-2.2M53.5 720.84h-2.2M53.5 710.68h-2.2M53.5 702.79h-2.2M53.5 696.35h-2.2M53.5 690.90h-2.2M53.5 686.19h-2.2M53.5 682.02h-2.2M53.5 678.3h-3.6M53.50 922.4v3.6M149.83 922.4v2.2M206.18 922.4v2.2M246.16 922.4v2.2M277.17 922.4v2.2M302.51 922.4v2.2M323.93 922.4v2.2M342.49 922.4v2.2M358.86 922.4v2.2M373.50 922.4v3.6" stroke="#362b2a" stroke-width="1.15" fill="none"/>
<g font-size="9.95" fill="#161414" stroke="#161414" stroke-width="0.25">
<text x="44" y="681.6" text-anchor="end">1</text>
<text x="44" y="763.0" text-anchor="end">0.1</text>
<text x="44" y="844.3" text-anchor="end">0.01</text>
<text x="44" y="925.7" text-anchor="end">0.001</text>
<text x="53.5" y="940.2" text-anchor="middle">0.1</text>
<text x="373.5" y="940.2" text-anchor="middle">1.0</text>
</g>
<g transform="translate(12.6 799.7) rotate(-90) scale(1.04)" font-size="13.4" fill="#161414" stroke="#161414" stroke-width="0.3"><text x="-41" y="0">0.0314</text><path d="M0.6 -5.2l1.4 -0.8l1.8 5.7l4.4 -11.3h7.2" fill="none" stroke="#161414" stroke-width="0.9"/><text x="8.5" y="0" font-style="italic">k</text><text x="15" y="0">, µm</text></g>
<g transform="translate(213.5 923.1)" fill="#161414"><path d="M-9.5 31.7l2 -0.9" fill="none" stroke="#161414" stroke-width="0.8"/><path d="M-7.6 30.7l2.6 6" fill="none" stroke="#161414" stroke-width="1.7"/><path d="M-5.1 37.4l3.6 -12.8h9.6" fill="none" stroke="#161414" stroke-width="0.9"/><text x="-0.4" y="37.2" font-size="14.5" font-style="italic" font-family="'Liberation Serif','DejaVu Serif',serif">ϕ</text></g>
<text x="112.7" y="983" font-size="18.1" font-weight="bold" fill="#161414" stroke="#161414" stroke-width="0.3">(e)</text>
<text x="138.79999999999998" y="983" font-size="13.5" fill="#161414" stroke="#161414" stroke-width="0.35" xml:space="preserve">FZI* rock typing at 6000 psia</text>
</g>
<rect x="554" y="679.2" width="154" height="276.2" fill="#fff" stroke="#362b2a" stroke-width="1.1"/>
<g font-size="10" fill="#161414" stroke-width="0.25">
<circle cx="589.5" cy="698.8" r="4.2" fill="#f5b21b" stroke="#1c1616" stroke-width="0.9"/>
<text x="610" y="702.2" stroke="#161414">EX1</text>
<circle cx="589.5" cy="724.6" r="4.2" fill="#1f2e63" stroke="#1c1616" stroke-width="0.9"/>
<text x="610" y="728.0" stroke="#161414">RT1</text>
<circle cx="589.5" cy="750.5" r="4.2" fill="#d0479c" stroke="#1c1616" stroke-width="0.9"/>
<text x="610" y="753.9" stroke="#161414">RT2</text>
<circle cx="589.5" cy="776.3" r="4.2" fill="#f3e83a" stroke="#1c1616" stroke-width="0.9"/>
<text x="610" y="779.7" stroke="#161414">RT3</text>
<circle cx="589.5" cy="802.1" r="4.2" fill="#3c9ad6" stroke="#1c1616" stroke-width="0.9"/>
<text x="610" y="805.5" stroke="#161414">RT4</text>
<circle cx="589.5" cy="827.9" r="4.2" fill="#e02a1f" stroke="#1c1616" stroke-width="0.9"/>
<text x="610" y="831.3" stroke="#161414">RT5</text>
<circle cx="589.5" cy="853.8" r="4.2" fill="#17a04a" stroke="#1c1616" stroke-width="0.9"/>
<text x="610" y="857.2" stroke="#161414">RT6</text>
<circle cx="589.5" cy="879.6" r="4.2" fill="#6b2c91" stroke="#1c1616" stroke-width="0.9"/>
<text x="610" y="883.0" stroke="#161414">EX2</text>
<polygon points="589.5,896.6 598,913.6 581,913.6" fill="#000" stroke="#e0201c" stroke-width="1"/>
<text x="610" y="909.5" stroke="#161414">Core 19</text>
<rect x="581.5" y="922.9" width="16" height="16" fill="#000" stroke="#e0201c" stroke-width="1"/>
<text x="610" y="935.6" stroke="#161414">Core 65</text>
</g>
</svg>
</body></html>
